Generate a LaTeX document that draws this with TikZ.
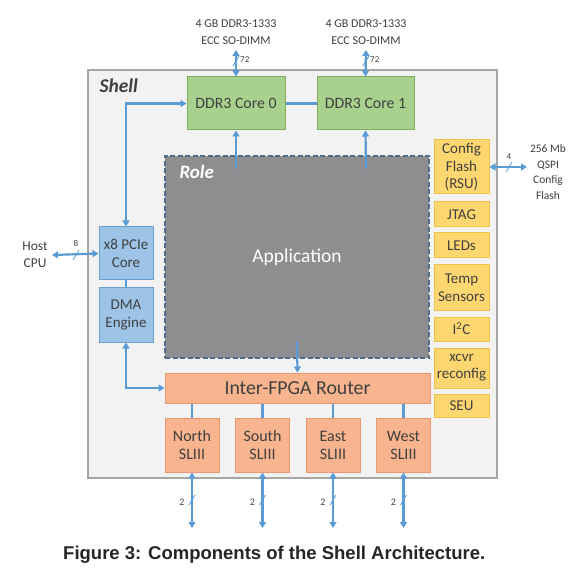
\documentclass[tikz,border=0pt]{standalone}
\usepackage{fontspec}
\setmainfont{Carlito}
\newfontfamily\capfont{Liberation Sans}
\usetikzlibrary{arrows.meta,positioning}
\definecolor{arrblue}{HTML}{5B9BD5}
\definecolor{gfill}{HTML}{A9D18E}
\definecolor{gdraw}{HTML}{7EAD5C}
\definecolor{bfill}{HTML}{9DC3E6}
\definecolor{bdraw}{HTML}{6A9FD2}
\definecolor{rfill}{HTML}{8E8E90}
\definecolor{rdraw}{HTML}{4F6E8E}
\definecolor{sfill}{HTML}{F7B48E}
\definecolor{sdraw}{HTML}{EB9770}
\definecolor{yfill}{HTML}{FFD770}
\definecolor{ydraw}{HTML}{F2C14A}
\definecolor{txt}{HTML}{404040}
\definecolor{shellfill}{HTML}{F2F2F2}
\definecolor{shelldraw}{HTML}{A6A6A6}
\tikzset{
  box/.style={draw, line width=1pt, inner sep=0.5pt, align=center, text=txt, font=\fontsize{15}{18}\selectfont},
  gbox/.style={box, fill=gfill, draw=gdraw, minimum height=53pt},
  bbox/.style={box, fill=bfill, draw=bdraw, minimum width=54pt},
  sbox/.style={box, fill=sfill, draw=sdraw},
  ybox/.style={box, fill=yfill, draw=ydraw, minimum width=55pt},
  conn/.style={draw=arrblue, line width=2.2pt},
  biarr/.style={conn, {Triangle[width=7pt,length=6pt]}-{Triangle[width=7pt,length=6pt]}},
  dotarr/.style={conn, line cap=round, -{Triangle[width=7pt,length=6pt]}},
  slash/.style={draw=arrblue, line width=0.8pt},
  lbl/.style={text=txt, align=center, inner sep=0pt, font=\fontsize{12}{17}\selectfont},
  small/.style={text=txt, inner sep=0pt, font=\fontsize{9}{10}\selectfont},
}
\begin{document}
\begin{tikzpicture}[x=1pt,y=-1pt]
\useasboundingbox (0,0) rectangle (584,580);
\fill[white] (0,0) rectangle (584,580);
% shell
\draw[fill=shellfill, draw=shelldraw, line width=1.5pt] (88,70) rectangle (497,478);
\node[anchor=west, text=txt, font=\fontsize{19.5}{20}\selectfont\bfseries\itshape] (shell) at (96,86) {Shell};
% DDR cores
\node[gbox, minimum width=98pt, font=\fontsize{15.8}{17}\selectfont] (core0) at (236,103.5) {DDR3 Core 0};
\node[gbox, minimum width=97pt, font=\fontsize{15.8}{17}\selectfont] (core1) at (365.5,103.5) {DDR3 Core 1};
% role
\node[draw=rdraw, fill=rfill, dash pattern=on 5pt off 2.5pt, line width=2.5pt, minimum width=264pt, minimum height=202pt, text=white, font=\fontsize{19.5}{20}\selectfont] (role) at (297,257) {Application};
\node[anchor=west, text=white, font=\fontsize{19}{20}\selectfont\bfseries\itshape] (rolelbl) at (176,172) {Role};
% PCIe / DMA
\node[bbox, minimum height=53pt] (pcie) at (126,253.5) {x8 PCIe\\Core};
\node[bbox, minimum height=54pt] (dma) at (126,315) {DMA\\Engine};
% router and SL
\node[sbox, minimum width=265pt, minimum height=30pt, font=\fontsize{19.8}{20}\selectfont] (router) at (297.5,388) {Inter-FPGA Router};
\node[sbox, minimum width=54pt, minimum height=54pt, font=\fontsize{16}{18}\selectfont] (north) at (192,445) {North\\SLIII};
\node[sbox, minimum width=54pt, minimum height=54pt, font=\fontsize{16}{18}\selectfont] (south) at (262.5,445) {South\\SLIII};
\node[sbox, minimum width=54pt, minimum height=54pt, font=\fontsize{16}{18}\selectfont] (east) at (333,445) {East\\SLIII};
\node[sbox, minimum width=54pt, minimum height=54pt, font=\fontsize{16}{18}\selectfont] (west) at (403.5,445) {West\\SLIII};
% right column
\node[ybox, minimum height=54pt, font=\fontsize{15}{17.5}\selectfont] (cfg) at (461.5,167) {Config\\Flash\\(RSU)};
\node[ybox, minimum height=25pt] (jtag) at (461.5,214.5) {JTAG};
\node[ybox, minimum height=25pt] (leds) at (461.5,245.5) {LEDs};
\node[ybox, minimum height=45pt] (temp) at (461.5,287.5) {Temp\\Sensors};
\node[ybox, minimum height=24pt] (i2c) at (461.5,329) {I\textsuperscript{2}C};
\node[ybox, minimum height=40pt, font=\fontsize{15}{17}\selectfont] (xcvr) at (461.5,368) {xcvr\\reconfig};
\node[ybox, minimum height=23pt] (seu) at (461.5,405.5) {SEU};
% external labels
\node[lbl] (mem0) at (236,32) {4 GB DDR3-1333\\ECC SO-DIMM};
\node[lbl] (mem1) at (366,32) {4 GB DDR3-1333\\ECC SO-DIMM};
\node[lbl, font=\fontsize{13.5}{17}\selectfont] (host) at (35,255) {Host\\CPU};
\node[lbl, font=\fontsize{11.5}{15.7}\selectfont] (qspi) at (548,172) {256 Mb\\QSPI\\Config\\Flash};
% coordinates
\coordinate (m0) at (236,50);
\coordinate (m1) at (366,50);
\coordinate (hc) at (52,255);
\coordinate (qc) at (527,167);
\coordinate (r0) at (236,168);
\coordinate (r1) at (366,168);
\coordinate (rb) at (297,342);
\coordinate (bn) at (192,528);
\coordinate (bs) at (262.5,528);
\coordinate (be) at (333,528);
\coordinate (bw) at (403.5,528);
% connectors
\draw[conn] (core0.east) -- (core1.west);
\draw[biarr] (core0.north) -- (m0);
\draw[biarr] (core1.north) -- (m1);
\draw[slash] (233,66) -- (239,56);
\draw[slash] (363,66) -- (369,56);
\node[small, anchor=west] (w72a) at (240,60) {72};
\node[small, anchor=west] (w72b) at (370,60) {72};
\draw[dotarr] (r0) -- (core0.south);
\draw[dotarr] (r1) -- (core1.south);
\draw[dotarr] (rb) -- (router.north);
\draw[biarr] (pcie.north) |- (core0.west);
\draw[conn] (pcie.south) -- (dma.north);
\draw[biarr] (dma.south) |- (router.west);
\draw[biarr] (hc) -- (pcie.west);
\draw[slash] (73,260) -- (79,250);
\node[small] (w8) at (76,243) {8};
\draw[biarr] (cfg.east) -- (qc);
\draw[slash] (506,172) -- (512,162);
\node[small] (w4) at (509,157) {4};
\draw[conn] (router.south -| north.north) -- (north.north);
\draw[conn] (router.south -| south.north) -- (south.north);
\draw[conn] (router.south -| east.north) -- (east.north);
\draw[conn] (router.south -| west.north) -- (west.north);
\foreach \n/\b/\x in {north/bn/192, south/bs/262.5, east/be/333, west/bw/403.5}{
  \draw[biarr] (\n.south) -- (\b);
  \draw[slash] (\x-3,505) -- (\x+3,495);
  \node[small, font=\fontsize{10}{10}\selectfont] at (\x-10,502) {2};
}
% caption
\node[anchor=west, inner sep=0pt, text=black!85, font=\capfont\fontsize{18.5}{20}\selectfont\bfseries] (cap) at (63,555) {Figure 3: Components of the Shell Architecture.};
\end{tikzpicture}
\end{document}
